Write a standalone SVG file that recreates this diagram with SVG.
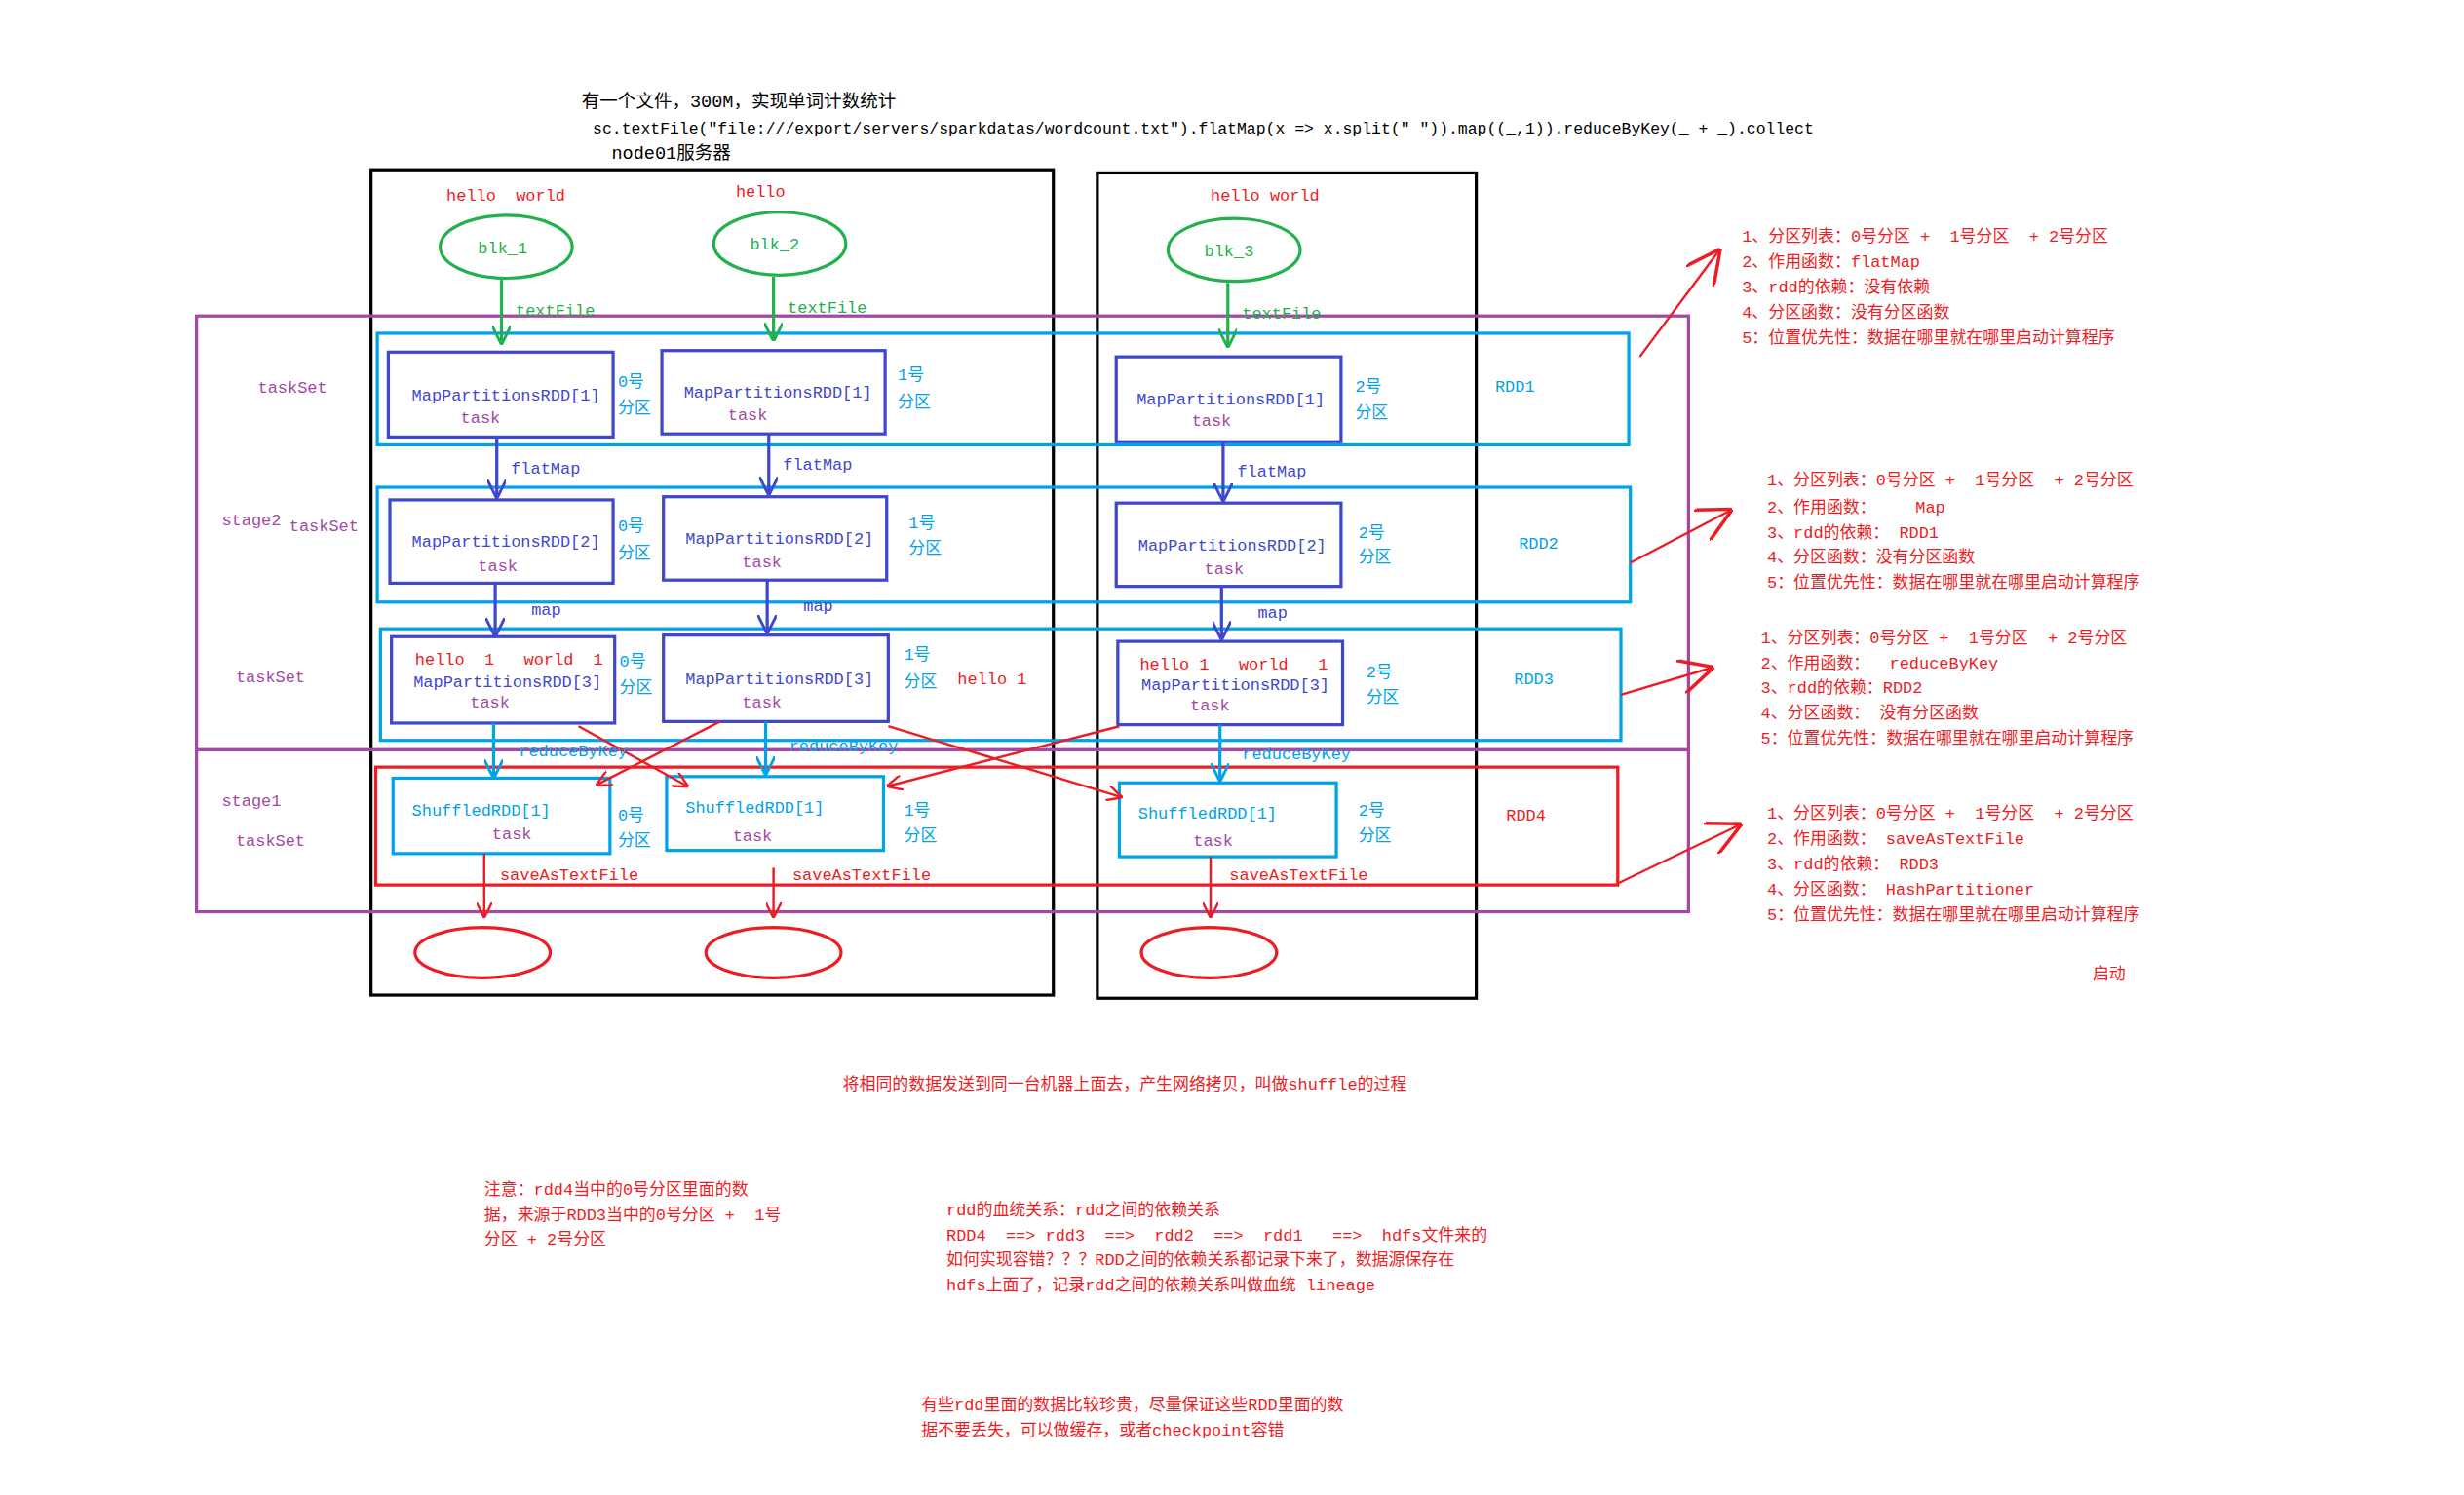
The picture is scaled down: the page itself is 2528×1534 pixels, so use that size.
<svg xmlns="http://www.w3.org/2000/svg" width="2528" height="1534" viewBox="0 0 2528 1534">
<style>
text{font-family:"Liberation Mono","Noto Sans CJK SC",monospace;font-size:10.5px;white-space:pre}
.k{fill:#000;font-size:11.5px}.r{fill:#ed1c24}.b{fill:#3f48cc}.l{fill:#00a2e8}.p{fill:#a349a4}.g{fill:#22b14c}
.nb{fill:none;stroke:#3f48cc;stroke-width:2}.lb{fill:none;stroke:#00a2e8;stroke-width:2}
.ra{stroke:#ed1c24;stroke-width:1.5;fill:none}
</style>
<defs>
<marker id="mr" viewBox="0 0 10 10" refX="9" refY="5" markerWidth="10" markerHeight="10" orient="auto" markerUnits="userSpaceOnUse"><path d="M0,0L10,5L0,10" fill="none" stroke="#ed1c24" stroke-width="1.5"/></marker>
<marker id="mR" viewBox="0 0 10 10" refX="9" refY="5" markerWidth="22" markerHeight="22" orient="auto" markerUnits="userSpaceOnUse"><path d="M0,0L10,5L0,10" fill="none" stroke="#ed1c24" stroke-width="1"/></marker>
<marker id="mg" viewBox="0 0 10 10" refX="9" refY="5" markerWidth="12" markerHeight="12" orient="auto" markerUnits="userSpaceOnUse"><path d="M0,0L10,5L0,10" fill="none" stroke="#22b14c" stroke-width="1.5"/></marker>
<marker id="mb" viewBox="0 0 10 10" refX="9" refY="5" markerWidth="12" markerHeight="12" orient="auto" markerUnits="userSpaceOnUse"><path d="M0,0L10,5L0,10" fill="none" stroke="#3f48cc" stroke-width="1.5"/></marker>
<marker id="ml" viewBox="0 0 10 10" refX="9" refY="5" markerWidth="12" markerHeight="12" orient="auto" markerUnits="userSpaceOnUse"><path d="M0,0L10,5L0,10" fill="none" stroke="#00a2e8" stroke-width="1.5"/></marker>
</defs>
<rect width="2528" height="1534" fill="#fff"/>
<g transform="scale(1.613)">
<g id="header">
<text class="k" x="370" y="68">有一个文件，300M，实现单词计数统计</text>
<text class="k" x="377" y="85" style="font-size:10.2px">sc.textFile("file:///export/servers/sparkdatas/wordcount.txt").flatMap(x =&gt; x.split(" ")).map((_,1)).reduceByKey(_ + _).collect</text>
<text class="k" x="389" y="101">node01服务器</text>
</g>
<g id="servers" fill="none" stroke="#000" stroke-width="2">
<rect x="236" y="108" width="434" height="525"/>
<rect x="698" y="110" width="241" height="525"/>
</g>
<g id="stages" fill="none" stroke="#a349a4" stroke-width="2">
<rect x="125" y="201" width="949" height="276"/>
<rect x="125" y="477" width="949" height="103"/>
</g>
<g id="rows">
<rect class="lb" x="240" y="212" width="796" height="71"/>
<rect class="lb" x="240" y="310" width="797" height="73"/>
<rect class="lb" x="242" y="400" width="789" height="71"/>
<rect x="239" y="488" width="790" height="75" fill="none" stroke="#ed1c24" stroke-width="2"/>
</g>
<g id="labels-left">
<text class="p" x="164" y="250">taskSet</text>
<text class="p" x="141" y="334">stage2</text>
<text class="p" x="184" y="338">taskSet</text>
<text class="p" x="150" y="434">taskSet</text>
<text class="p" x="141" y="513">stage1</text>
<text class="p" x="150" y="538">taskSet</text>
</g>
<g id="blocks">
<text class="r" x="284" y="128">hello  world</text>
<text class="r" x="468" y="125">hello</text>
<text class="r" x="770" y="128">hello world</text>
<g id="blk1"><ellipse cx="322" cy="157" rx="42" ry="20" fill="none" stroke="#22b14c" stroke-width="2"/><text class="g" x="304" y="161">blk_1</text></g>
<g id="blk2"><ellipse cx="496" cy="155" rx="42" ry="20" fill="none" stroke="#22b14c" stroke-width="2"/><text class="g" x="477" y="159">blk_2</text></g>
<g id="blk3"><ellipse cx="785" cy="159" rx="42" ry="20" fill="none" stroke="#22b14c" stroke-width="2"/><text class="g" x="766" y="163">blk_3</text></g>
</g>
<g id="r1a"><rect class="nb" x="247" y="224" width="143" height="54"/><text class="b" x="262" y="255">MapPartitionsRDD[1]</text><text class="p" x="293" y="269">task</text></g>
<g id="r1b"><rect class="nb" x="421" y="223" width="142" height="53"/><text class="b" x="435" y="253">MapPartitionsRDD[1]</text><text class="p" x="463" y="267">task</text></g>
<g id="r1c"><rect class="nb" x="710" y="227" width="143" height="54"/><text class="b" x="723" y="257">MapPartitionsRDD[1]</text><text class="p" x="758" y="271">task</text></g>
<g id="r2a"><rect class="nb" x="248" y="318" width="142" height="53"/><text class="b" x="262" y="348">MapPartitionsRDD[2]</text><text class="p" x="304" y="363">task</text></g>
<g id="r2b"><rect class="nb" x="422" y="316" width="142" height="53"/><text class="b" x="436" y="346">MapPartitionsRDD[2]</text><text class="p" x="472" y="361">task</text></g>
<g id="r2c"><rect class="nb" x="710" y="320" width="143" height="53"/><text class="b" x="724" y="350">MapPartitionsRDD[2]</text><text class="p" x="766" y="365">task</text></g>
<g id="r3a"><rect class="nb" x="249" y="405" width="142" height="55"/><text class="r" x="264" y="423">hello  1   world  1</text><text class="b" x="263" y="437">MapPartitionsRDD[3]</text><text class="p" x="299" y="450">task</text></g>
<g id="r3b"><rect class="nb" x="422" y="404" width="143" height="55"/><text class="b" x="436" y="435">MapPartitionsRDD[3]</text><text class="p" x="472" y="450">task</text></g>
<g id="r3c"><rect class="nb" x="711" y="408" width="143" height="53"/><text class="r" x="725" y="426">hello 1   world   1</text><text class="b" x="726" y="439">MapPartitionsRDD[3]</text><text class="p" x="757" y="452">task</text></g>
<g id="s1"><rect class="lb" x="250" y="495" width="138" height="48"/><text class="l" x="262" y="519">ShuffledRDD[1]</text><text class="p" x="313" y="534">task</text></g>
<g id="s2"><rect class="lb" x="424" y="494" width="138" height="47"/><text class="l" x="436" y="517">ShuffledRDD[1]</text><text class="p" x="466" y="535">task</text></g>
<g id="s3"><rect class="lb" x="712" y="498" width="138" height="47"/><text class="l" x="724" y="521">ShuffledRDD[1]</text><text class="p" x="759" y="538">task</text></g>
<g id="out1"><ellipse cx="307" cy="606" rx="43" ry="16" fill="none" stroke="#ed1c24" stroke-width="2"/></g>
<g id="out2"><ellipse cx="492" cy="606" rx="43" ry="16" fill="none" stroke="#ed1c24" stroke-width="2"/></g>
<g id="out3"><ellipse cx="769" cy="606" rx="43" ry="16" fill="none" stroke="#ed1c24" stroke-width="2"/></g>
<g id="partitions">
<text class="l" x="393" y="246">0号</text><text class="l" x="393" y="263">分区</text>
<text class="l" x="571" y="242">1号</text><text class="l" x="571" y="259">分区</text>
<text class="l" x="862" y="249">2号</text><text class="l" x="862" y="266">分区</text>
<text class="l" x="393" y="338">0号</text><text class="l" x="393" y="355">分区</text>
<text class="l" x="578" y="336">1号</text><text class="l" x="578" y="352">分区</text>
<text class="l" x="864" y="342">2号</text><text class="l" x="864" y="358">分区</text>
<text class="l" x="394" y="424">0号</text><text class="l" x="394" y="441">分区</text>
<text class="l" x="575" y="420">1号</text><text class="l" x="575" y="437">分区</text>
<text class="l" x="869" y="431">2号</text><text class="l" x="869" y="447">分区</text>
<text class="l" x="393" y="522">0号</text><text class="l" x="393" y="538">分区</text>
<text class="l" x="575" y="519">1号</text><text class="l" x="575" y="535">分区</text>
<text class="l" x="864" y="519">2号</text><text class="l" x="864" y="535">分区</text>
<text class="r" x="609" y="435">hello 1</text>
<text class="l" x="951" y="249">RDD1</text>
<text class="l" x="966" y="349">RDD2</text>
<text class="l" x="963" y="435">RDD3</text>
<text class="r" x="958" y="522">RDD4</text>
</g>
<g id="connectors">
<line x1="319" y1="178" x2="319" y2="218" stroke="#22b14c" stroke-width="2" marker-end="url(#mg)"/>
<line x1="492" y1="176" x2="492" y2="216" stroke="#22b14c" stroke-width="2" marker-end="url(#mg)"/>
<line x1="781" y1="180" x2="781" y2="220" stroke="#22b14c" stroke-width="2" marker-end="url(#mg)"/>
<line x1="316" y1="278" x2="316" y2="316" stroke="#3f48cc" stroke-width="2" marker-end="url(#mb)"/>
<line x1="489" y1="276" x2="489" y2="314" stroke="#3f48cc" stroke-width="2" marker-end="url(#mb)"/>
<line x1="778" y1="281" x2="778" y2="318" stroke="#3f48cc" stroke-width="2" marker-end="url(#mb)"/>
<line x1="315" y1="371" x2="315" y2="404" stroke="#3f48cc" stroke-width="2" marker-end="url(#mb)"/>
<line x1="488" y1="369" x2="488" y2="402" stroke="#3f48cc" stroke-width="2" marker-end="url(#mb)"/>
<line x1="777" y1="373" x2="777" y2="406" stroke="#3f48cc" stroke-width="2" marker-end="url(#mb)"/>
<line x1="314" y1="460" x2="314" y2="494" stroke="#00a2e8" stroke-width="2" marker-end="url(#ml)"/>
<line x1="487" y1="459" x2="487" y2="492" stroke="#00a2e8" stroke-width="2" marker-end="url(#ml)"/>
<line x1="776" y1="461" x2="776" y2="496" stroke="#00a2e8" stroke-width="2" marker-end="url(#ml)"/>
<line class="ra" x1="308" y1="543" x2="308" y2="583" marker-end="url(#mr)"/>
<line class="ra" x1="492" y1="552" x2="492" y2="583" marker-end="url(#mr)"/>
<line class="ra" x1="770" y1="545" x2="770" y2="583" marker-end="url(#mr)"/>
<line class="ra" x1="368" y1="462" x2="437" y2="500" marker-end="url(#mr)"/>
<line class="ra" x1="458" y1="459" x2="380" y2="499" marker-end="url(#mr)"/>
<line class="ra" x1="565" y1="462" x2="713" y2="507" marker-end="url(#mr)"/>
<line class="ra" x1="712" y1="462" x2="565" y2="500" marker-end="url(#mr)"/>
<text class="g" x="328" y="201">textFile</text>
<text class="g" x="501" y="199">textFile</text>
<text class="g" x="790" y="203">textFile</text>
<text class="b" x="325" y="301">flatMap</text>
<text class="b" x="498" y="299">flatMap</text>
<text class="b" x="787" y="303">flatMap</text>
<text class="b" x="338" y="391">map</text>
<text class="b" x="511" y="389">map</text>
<text class="b" x="800" y="393">map</text>
<text class="l" x="330" y="481">reduceByKey</text>
<text class="l" x="502" y="478">reduceByKey</text>
<text class="l" x="790" y="483">reduceByKey</text>
<text class="r" x="318" y="560">saveAsTextFile</text>
<text class="r" x="504" y="560">saveAsTextFile</text>
<text class="r" x="782" y="560">saveAsTextFile</text>
<line class="ra" x1="1043" y1="227" x2="1093" y2="160" marker-end="url(#mR)"/>
<line class="ra" x1="1037" y1="358" x2="1100" y2="325" marker-end="url(#mR)"/>
<line class="ra" x1="1031" y1="442" x2="1088" y2="425" marker-end="url(#mR)"/>
<line class="ra" x1="1029" y1="562" x2="1106" y2="525" marker-end="url(#mR)"/>
</g>
<g id="notes">
<text class="r" x="1108" y="154">1、分区列表：0号分区 +  1号分区  + 2号分区</text>
<text class="r" x="1108" y="170">2、作用函数：flatMap</text>
<text class="r" x="1108" y="186">3、rdd的依赖：没有依赖</text>
<text class="r" x="1108" y="202">4、分区函数：没有分区函数</text>
<text class="r" x="1108" y="218">5：位置优先性：数据在哪里就在哪里启动计算程序</text>
<text class="r" x="1124" y="309">1、分区列表：0号分区 +  1号分区  + 2号分区</text>
<text class="r" x="1124" y="326">2、作用函数：    Map</text>
<text class="r" x="1124" y="342">3、rdd的依赖： RDD1</text>
<text class="r" x="1124" y="358">4、分区函数：没有分区函数</text>
<text class="r" x="1124" y="374">5：位置优先性：数据在哪里就在哪里启动计算程序</text>
<text class="r" x="1120" y="409">1、分区列表：0号分区 +  1号分区  + 2号分区</text>
<text class="r" x="1120" y="425">2、作用函数：  reduceByKey</text>
<text class="r" x="1120" y="441">3、rdd的依赖：RDD2</text>
<text class="r" x="1120" y="457">4、分区函数： 没有分区函数</text>
<text class="r" x="1120" y="473">5：位置优先性：数据在哪里就在哪里启动计算程序</text>
<text class="r" x="1124" y="521">1、分区列表：0号分区 +  1号分区  + 2号分区</text>
<text class="r" x="1124" y="537">2、作用函数： saveAsTextFile</text>
<text class="r" x="1124" y="553">3、rdd的依赖： RDD3</text>
<text class="r" x="1124" y="569">4、分区函数： HashPartitioner</text>
<text class="r" x="1124" y="585">5：位置优先性：数据在哪里就在哪里启动计算程序</text>
<text class="r" x="1331" y="623">启动</text>
<text class="r" x="536" y="693">将相同的数据发送到同一台机器上面去，产生网络拷贝，叫做shuffle的过程</text>
<text class="r" x="308" y="760">注意：rdd4当中的0号分区里面的数</text>
<text class="r" x="308" y="776">据，来源于RDD3当中的0号分区 +  1号</text>
<text class="r" x="308" y="792">分区 + 2号分区</text>
<text class="r" x="602" y="773">rdd的血统关系：rdd之间的依赖关系</text>
<text class="r" x="602" y="789">RDD4  ==&gt; rdd3  ==&gt;  rdd2  ==&gt;  rdd1   ==&gt;  hdfs文件来的</text>
<text class="r" x="602" y="805">如何实现容错？？？RDD之间的依赖关系都记录下来了，数据源保存在</text>
<text class="r" x="602" y="821">hdfs上面了，记录rdd之间的依赖关系叫做血统 lineage</text>
<text class="r" x="586" y="897">有些rdd里面的数据比较珍贵，尽量保证这些RDD里面的数</text>
<text class="r" x="586" y="913">据不要丢失，可以做缓存，或者checkpoint容错</text>
</g>
</g>
</svg>
